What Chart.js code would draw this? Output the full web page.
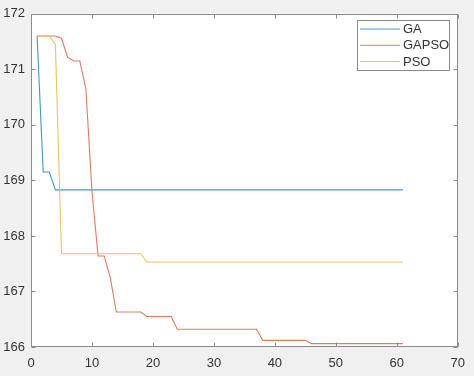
<!DOCTYPE html>
<html>
<head>
<meta charset="utf-8">
<script src="https://cdn.jsdelivr.net/npm/chart.js@4"></script>
<style>
  html, body { margin: 0; padding: 0; background: #f0f0f0; }
  #wrap { width: 474px; height: 376px; }
</style>
</head>
<body>
<div id="wrap"><canvas id="convergenceChart" width="474" height="376"></canvas></div>
<script>
// iterations 1..61
var iterations = Array.from({ length: 61 }, function (_, i) { return i + 1; });

var seriesNames = ['GA', 'GAPSO', 'PSO'];

var gaValues = [
    171.6, 169.15, 169.15, 168.83, 168.83, 168.83, 168.83, 168.83, 168.83, 168.83,
    168.83, 168.83, 168.83, 168.83, 168.83, 168.83, 168.83, 168.83, 168.83, 168.83,
    168.83, 168.83, 168.83, 168.83, 168.83, 168.83, 168.83, 168.83, 168.83, 168.83,
    168.83, 168.83, 168.83, 168.83, 168.83, 168.83, 168.83, 168.83, 168.83, 168.83,
    168.83, 168.83, 168.83, 168.83, 168.83, 168.83, 168.83, 168.83, 168.83, 168.83,
    168.83, 168.83, 168.83, 168.83, 168.83, 168.83, 168.83, 168.83, 168.83, 168.83,
    168.83
];

var gapsoValues = [
    171.6, 171.6, 171.6, 171.6, 171.56, 171.22, 171.15, 171.15, 170.65, 168.8,
    167.64, 167.64, 167.25, 166.63, 166.63, 166.63, 166.63, 166.63, 166.55, 166.55,
    166.55, 166.55, 166.55, 166.32, 166.32, 166.32, 166.32, 166.32, 166.32, 166.32,
    166.32, 166.32, 166.32, 166.32, 166.32, 166.32, 166.32, 166.12, 166.12, 166.12,
    166.12, 166.12, 166.12, 166.12, 166.12, 166.06, 166.06, 166.06, 166.06, 166.06,
    166.06, 166.06, 166.06, 166.06, 166.06, 166.06, 166.06, 166.06, 166.06, 166.06,
    166.06
];

var psoValues = [
    171.6, 171.6, 171.6, 171.45, 167.68, 167.68, 167.68, 167.68, 167.68, 167.68,
    167.68, 167.68, 167.68, 167.68, 167.68, 167.68, 167.68, 167.68, 167.53, 167.53,
    167.53, 167.53, 167.53, 167.53, 167.53, 167.53, 167.53, 167.53, 167.53, 167.53,
    167.53, 167.53, 167.53, 167.53, 167.53, 167.53, 167.53, 167.53, 167.53, 167.53,
    167.53, 167.53, 167.53, 167.53, 167.53, 167.53, 167.53, 167.53, 167.53, 167.53,
    167.53, 167.53, 167.53, 167.53, 167.53, 167.53, 167.53, 167.53, 167.53, 167.53,
    167.53
];

var xTicks = [0, 10, 20, 30, 40, 50, 60, 70];
var yTicks = [166, 167, 168, 169, 170, 171, 172];

var colors = ['#3b9cc8', '#e3795e', '#ebc35c'];
var axisColor = '#8a8a8a';
var textColor = '#333333';
var fontFamily = '"Liberation Sans", Arial, Helvetica, sans-serif';

function toPoints(values) {
    return values.map(function (v, i) { return { x: iterations[i], y: v }; });
}

// grey figure background, white axes area
var backgroundPlugin = {
    id: 'matlabBackground',
    beforeDraw: function (chart) {
        var c = chart.ctx, a = chart.chartArea;
        c.save();
        c.fillStyle = '#f0f0f0';
        c.fillRect(0, 0, chart.width, chart.height);
        c.fillStyle = '#ffffff';
        c.fillRect(a.left, a.top, a.right - a.left, a.bottom - a.top);
        c.restore();
    }
};

// box, inward ticks and legend like MATLAB
var boxPlugin = {
    id: 'matlabBox',
    afterDraw: function (chart) {
        var c = chart.ctx, a = chart.chartArea;
        var xs = chart.scales.x, ys = chart.scales.y;
        var L = Math.round(a.left) + 0.5, R = Math.round(a.right) - 0.5;
        var T = Math.round(a.top) + 0.5, B = Math.round(a.bottom) - 0.5;
        c.save();
        c.strokeStyle = axisColor;
        c.lineWidth = 1;
        c.strokeRect(L, T, R - L, B - T);
        c.beginPath();
        xTicks.forEach(function (t) {
            var px = Math.round(xs.getPixelForValue(t)) + 0.5;
            c.moveTo(px, B); c.lineTo(px, B - 4);
            c.moveTo(px, T); c.lineTo(px, T + 4);
        });
        yTicks.forEach(function (t) {
            var py = Math.round(ys.getPixelForValue(t)) + 0.5;
            c.moveTo(L, py); c.lineTo(L + 4, py);
            c.moveTo(R, py); c.lineTo(R - 4, py);
        });
        c.stroke();

        // legend
        var bx = 357.5, by = 20.5, bw = 92, bh = 50;
        c.fillStyle = '#ffffff';
        c.fillRect(bx, by, bw, bh);
        c.strokeStyle = axisColor;
        c.strokeRect(bx, by, bw, bh);
        c.font = '13px ' + fontFamily;
        c.textBaseline = 'middle';
        c.textAlign = 'left';
        seriesNames.forEach(function (name, i) {
            var yy = 29 + i * 16.3;
            c.strokeStyle = colors[i];
            c.beginPath();
            c.moveTo(360, yy); c.lineTo(400, yy);
            c.stroke();
            c.fillStyle = textColor;
            c.fillText(name, 403, yy + 0.5);
        });
        c.restore();
    }
};

var ctx = document.getElementById('convergenceChart').getContext('2d');
var convergenceChart = new Chart(ctx, {
    type: 'line',
    data: {
        datasets: [{
            label: seriesNames[0],
            data: toPoints(gaValues),
            borderColor: colors[0],
            order: 2
        }, {
            label: seriesNames[1],
            data: toPoints(gapsoValues),
            borderColor: colors[1],
            order: 1
        }, {
            label: seriesNames[2],
            data: toPoints(psoValues),
            borderColor: colors[2],
            order: 0
        }]
    },
    options: {
        responsive: false,
        animation: false,
        devicePixelRatio: 1,
        layout: { padding: { left: 0, top: 9, right: 13, bottom: 0 } },
        elements: {
            line: { borderWidth: 1.1, tension: 0, fill: false },
            point: { radius: 0 }
        },
        plugins: {
            legend: { display: false },
            tooltip: { enabled: false }
        },
        scales: {
            x: {
                type: 'linear',
                min: 0,
                max: 70,
                afterFit: function (s) { s.height = 29; },
                afterBuildTicks: function (s) { s.ticks = xTicks.map(function (v) { return { value: v }; }); },
                grid: { display: false, drawTicks: false, tickLength: 0 },
                border: { display: false },
                ticks: { color: textColor, font: { size: 13, family: fontFamily }, padding: 9, maxRotation: 0 }
            },
            y: {
                type: 'linear',
                min: 166,
                max: 172,
                afterFit: function (s) { s.width = 31; },
                afterBuildTicks: function (s) { s.ticks = yTicks.map(function (v) { return { value: v }; }); },
                grid: { display: false, drawTicks: false, tickLength: 0 },
                border: { display: false },
                ticks: { color: textColor, font: { size: 13, family: fontFamily }, padding: 6 }
            }
        }
    },
    plugins: [backgroundPlugin, boxPlugin]
});
</script>
</body>
</html>
